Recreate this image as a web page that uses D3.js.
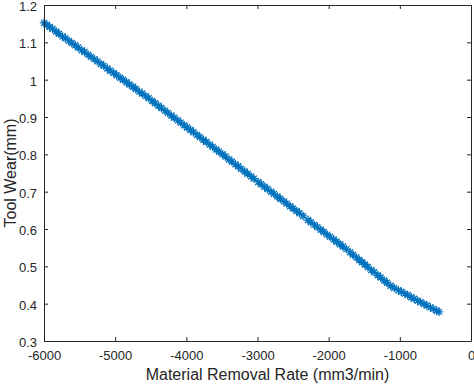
<!DOCTYPE html>
<html>
<head>
<meta charset="utf-8">
<script src="https://cdn.jsdelivr.net/npm/d3@7"></script>
<style>
  html,body{margin:0;padding:0;background:#fff;}
  svg{display:block;font-family:"Liberation Sans",Arial,sans-serif;}
</style>
</head>
<body>
<svg id="chart" width="474" height="384"></svg>
<script>
// ===== data =====
const mrr = [
  -6000,-5960,-5920,-5880,-5830,-5790,-5740,-5700,-5650,-5610,-5560,-5520,-5470,-5430,-5380,-5340,
  -5290,-5250,-5200,-5160,-5110,-5070,-5020,-4980,-4930,-4890,-4840,-4800,-4750,-4710,-4660,-4620,
  -4570,-4530,-4480,-4440,-4390,-4350,-4300,-4260,-4210,-4170,-4120,-4080,-4030,-3990,-3940,-3900,
  -3850,-3810,-3760,-3720,-3670,-3630,-3580,-3540,-3490,-3450,-3400,-3360,-3310,-3270,-3230,-3180,
  -3140,-3090,-3050,-2990,-2950,-2900,-2860,-2810,-2770,-2720,-2680,-2630,-2590,-2540,-2500,-2450,
  -2410,-2360,-2290,-2250,-2200,-2160,-2110,-2070,-2020,-1980,-1930,-1890,-1840,-1800,-1750,-1700,
  -1660,-1610,-1570,-1530,-1490,-1450,-1400,-1360,-1310,-1270,-1220,-1180,-1130,-1080,-1020,-980,
  -930,-890,-840,-800,-750,-710,-660,-620,-570,-530,-480,-450
];
const wear = [
  1.152,1.147,1.141,1.136,1.129,1.123,1.116,1.111,1.104,1.098,1.092,1.086,1.079,1.074,1.067,1.061,
  1.055,1.049,1.042,1.037,1.030,1.024,1.018,1.012,1.005,1.000,0.993,0.987,0.981,0.975,0.968,0.963,
  0.956,0.950,0.943,0.937,0.930,0.924,0.917,0.911,0.904,0.898,0.891,0.885,0.878,0.872,0.865,0.859,
  0.852,0.846,0.839,0.833,0.826,0.820,0.813,0.807,0.800,0.794,0.786,0.781,0.773,0.768,0.761,0.754,
  0.748,0.741,0.735,0.726,0.720,0.713,0.707,0.700,0.694,0.687,0.681,0.674,0.668,0.661,0.655,0.648,
  0.642,0.635,0.624,0.618,0.611,0.605,0.598,0.592,0.585,0.579,0.572,0.566,0.559,0.553,0.546,0.538,
  0.531,0.524,0.517,0.511,0.505,0.498,0.490,0.484,0.476,0.470,0.462,0.456,0.448,0.442,0.436,0.432,
  0.427,0.423,0.417,0.413,0.408,0.404,0.399,0.395,0.390,0.386,0.381,0.378
];
const xTicks = [-6000,-5000,-4000,-3000,-2000,-1000,0];
const yTicks = [0.3,0.4,0.5,0.6,0.7,0.8,0.9,1,1.1,1.2];

// ===== layout =====
const M = {top:5, right:3, bottom:43, left:44};
const W = 474, H = 384;
const svg = d3.select("#chart");
const AX = "#262626";

const x = d3.scaleLinear().domain([-6000,0]).range([M.left, W - M.right]);
const y = d3.scaleLinear().domain([0.3,1.2]).range([H - M.bottom, M.top]);

const fmtX = v => String(v);
const fmtY = v => String(+v.toFixed(1));

// markers first, axes on top
const star = "M-4.2,0H4.2M0,-4.2V4.2M-3,-3L3,3M-3,3L3,-3";
svg.append("g").selectAll("path")
  .data(mrr.map((v,i)=>({x:v, y:wear[i]})))
  .join("path")
  .attr("transform", d => `translate(${x(d.x)},${y(d.y)})`)
  .attr("d", star)
  .attr("fill","none")
  .attr("stroke","#0072BD")
  .attr("stroke-width",1.3);

function styleAxis(g){
  g.select(".domain").attr("stroke",AX);
  g.selectAll(".tick line").attr("stroke",AX);
  g.selectAll(".tick text")
    .attr("fill","#262626")
    .attr("font-size","13px")
    .attr("font-family","'Liberation Sans',Arial,sans-serif");
}

// bottom
svg.append("g")
  .attr("transform",`translate(0,${H - M.bottom})`)
  .call(d3.axisBottom(x).tickValues(xTicks).tickSize(-4).tickSizeOuter(0).tickPadding(10).tickFormat(fmtX))
  .call(styleAxis);
// top
svg.append("g")
  .attr("transform",`translate(0,${M.top})`)
  .call(d3.axisTop(x).tickValues(xTicks).tickSize(-4).tickSizeOuter(0).tickFormat(""))
  .call(styleAxis);
// left
const gl = svg.append("g")
  .attr("transform",`translate(${M.left},0)`)
  .call(d3.axisLeft(y).tickValues(yTicks).tickSize(-4).tickSizeOuter(0).tickPadding(7).tickFormat(fmtY))
  .call(styleAxis);
gl.selectAll(".tick text").attr("dy","0.42em");
// right
svg.append("g")
  .attr("transform",`translate(${W - M.right},0)`)
  .call(d3.axisRight(y).tickValues(yTicks).tickSize(-4).tickSizeOuter(0).tickFormat(""))
  .call(styleAxis);

// labels
svg.append("text")
  .attr("x", (M.left + W - M.right)/2 + 10)
  .attr("y", H - 4)
  .attr("text-anchor","middle")
  .attr("fill","#262626")
  .attr("font-size","16px")
  .text("Material Removal Rate (mm3/min)");

svg.append("text")
  .attr("transform",`translate(16,${(M.top + H - M.bottom)/2}) rotate(-90)`)
  .attr("text-anchor","middle")
  .attr("fill","#262626")
  .attr("font-size","16px")
  .text("Tool Wear(mm)");
</script>
</body>
</html>
